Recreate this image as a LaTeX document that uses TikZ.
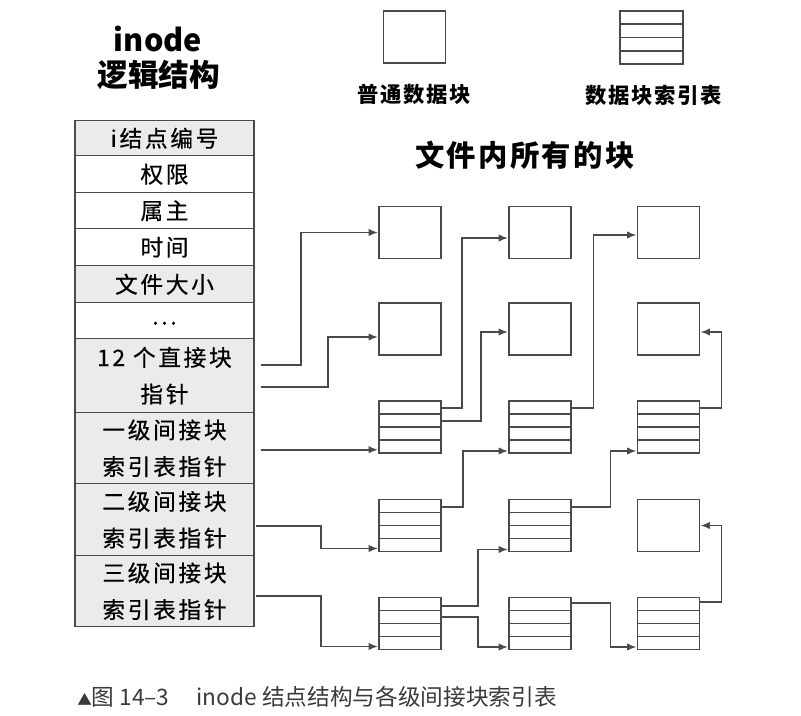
\documentclass[tikz,border=0pt]{standalone}
\usepackage{fontspec}
\setmainfont{Noto Sans CJK SC}
\newfontfamily\tabfont[LetterSpace=12,FakeBold=0.6]{Noto Sans CJK SC}
\newfontfamily\legfont[LetterSpace=8]{Noto Sans CJK SC}
\usetikzlibrary{arrows.meta,calc}
\definecolor{lncol}{HTML}{4A4A4A}
\definecolor{cellgray}{HTML}{EBEBEB}
\definecolor{capcol}{HTML}{3A3A3A}
\begin{document}
\begin{tikzpicture}[x=0.75pt,y=-0.75pt,
  blk/.style={draw=lncol, line width=1.4pt, minimum width=46.5pt, minimum height=39pt, inner sep=0pt},
  idx/.style={blk, path picture={\foreach \f in {0.25,0.5,0.75}{\draw[lncol, line width=1.4pt] ($(path picture bounding box.north west)!\f!(path picture bounding box.south west)$) -- ($(path picture bounding box.north east)!\f!(path picture bounding box.south east)$);}}},
  arr/.style={draw=lncol, line width=1.3pt, -{Latex[length=7pt,width=5.5pt]}},
  cell/.style={draw=lncol, line width=1.1pt, minimum width=134.25pt, inner sep=0pt, anchor=north, align=center, font=\tabfont\fontsize{17}{27.5}\selectfont},
  gcell/.style={cell, fill=cellgray},
  ttl/.style={font=\bfseries\fontsize{23}{28}\selectfont},
  leg/.style={font=\legfont\bfseries\fontsize{16}{20}\selectfont},
  captxt/.style={font=\fontsize{17}{20}\selectfont, text=capcol, anchor=west, inner sep=0pt}
]
\useasboundingbox (0,0) rectangle (801,716);

% titles
\node[ttl] (tinode) at (158,39) {inode};
\node[ttl] (tlogic) at (159,75) {逻辑结构};

% legend
\node[blk] (lgplain) at (414.5,37) {};
\node[idx, minimum width=47.25pt, minimum height=39.75pt] (lgidx) at (651.5,37.5) {};
\node[leg] (lgplaintxt) at (414.5,94) {普通数据块};
\node[leg] (lgidxtxt) at (653.5,95) {数据块索引表};
\node[font=\legfont\bfseries\fontsize{22}{26}\selectfont] (allblk) at (525,155) {文件内所有的块};

% inode table
\node[gcell, minimum height=26.25pt] (r0) at (164.5,120) {i结点编号};
\node[cell, minimum height=27.75pt] (r1) at (164.5,155) {权限};
\node[cell, minimum height=27pt] (r2) at (164.5,192) {属主};
\node[cell, minimum height=27.75pt] (r3) at (164.5,228) {时间};
\node[gcell, minimum height=27.75pt] (r4) at (164.5,265) {文件大小};
\node[cell, minimum height=27pt] (r5) at (164.5,302) {\raisebox{-6pt}{...}};
\node[gcell, minimum height=55.5pt] (r6) at (164.5,338) {12 个直接块\\指针};
\node[gcell, minimum height=53.25pt] (r7) at (164.5,412) {一级间接块\\索引表指针};
\node[gcell, minimum height=54pt] (r8) at (164.5,483) {二级间接块\\索引表指针};
\node[gcell, minimum height=53.25pt] (r9) at (164.5,555) {三级间接块\\索引表指针};

% blocks
\node[blk] (c11) at (410,232.5) {};
\node[blk] (c12) at (410,329) {};
\node[idx] (c13) at (410,427) {};
\node[idx] (c14) at (410,525.5) {};
\node[idx] (c15) at (410,623.5) {};
\node[blk] (c21) at (540,232.5) {};
\node[blk] (c22) at (540,329) {};
\node[idx] (c23) at (540,427) {};
\node[idx] (c24) at (540,525.5) {};
\node[idx] (c25) at (540,623.5) {};
\node[blk] (c31) at (668.5,232.5) {};
\node[blk] (c32) at (668.5,329) {};
\node[idx] (c33) at (668.5,427) {};
\node[blk] (c34) at (668.5,525.5) {};
\node[idx] (c35) at (668.5,623.5) {};

% start and target points
\coordinate (s1) at ($(r6.east)+(6,-11)$);
\coordinate (s2) at ($(r6.east)+(6,11)$);
\coordinate (s3) at ($(r7.east)+(6,1.5)$);
\coordinate (s4) at ($(r8.east)+(1,6)$);
\coordinate (s5) at ($(r9.east)+(1,4.5)$);
\coordinate (t2) at ($(c12.west)+(0,8)$);
\coordinate (t4) at ($(c14.west)+(0,23)$);
\coordinate (t5) at ($(c15.west)+(0,23)$);
\coordinate (s6) at ($(c13.east)+(0,-19)$);
\coordinate (s7) at ($(c13.east)+(0,-6)$);
\coordinate (s8) at ($(c14.east)+(0,-18.5)$);
\coordinate (s9) at ($(c15.east)+(0,-17.5)$);
\coordinate (s10) at ($(c15.east)+(0,-6.5)$);
\coordinate (t6) at ($(c21.west)+(0,5.5)$);
\coordinate (t7) at ($(c22.west)+(0,3)$);
\coordinate (t8) at ($(c23.west)+(0,24)$);
\coordinate (t9) at ($(c24.west)+(0,24)$);
\coordinate (t10) at ($(c25.west)+(0,23.5)$);
\coordinate (s11) at ($(c23.east)+(0,-19)$);
\coordinate (s12) at ($(c33.east)+(0,-19)$);
\coordinate (s13) at ($(c24.east)+(0,-18.5)$);
\coordinate (s14) at ($(c25.east)+(0,-20.5)$);
\coordinate (s15) at ($(c35.east)+(0,-21.5)$);
\coordinate (t11) at ($(c31.west)+(0,2.5)$);
\coordinate (t12) at ($(c32.east)+(0,3)$);
\coordinate (t13) at ($(c33.west)+(0,24)$);
\coordinate (t14) at ($(c35.west)+(0,23.5)$);

% connectors
\draw[arr] (s1) -| ($(c11.west)+(-77,0)$) -- (c11.west);
\draw[arr] (s2) -| ($(t2)+(-50,0)$) -- (t2);
\draw[arr] (s3) -- (s3 -| c13.west);
\draw[arr] (s4) -| ($(t4)+(-57,0)$) -- (t4);
\draw[arr] (s5) -| ($(t5)+(-57,0)$) -- (t5);
\draw[arr] (s6) -| ($(t6)+(-46,0)$) -- (t6);
\draw[arr] (s7) -| ($(t7)+(-27,0)$) -- (t7);
\draw[arr] (s8) -| ($(t8)+(-45,0)$) -- (t8);
\draw[arr] (s9) -| ($(t9)+(-30,0)$) -- (t9);
\draw[arr] (s10) -| ($(t10)+(-30,0)$) -- (t10);
\draw[arr] (s11) -| ($(t11)+(-43,0)$) -- (t11);
\draw[arr] (s12) -| ($(t12)+(21,0)$) -- (t12);
\draw[arr] (s13) -| ($(t13)+(-26,0)$) -- (t13);
\draw[arr] (s14) -| ($(t14)+(-26,0)$) -- (t14);
\draw[arr] (s15) -| ($(c34.east)+(21,0)$) -- (c34.east);

% caption
\node[captxt] (caption) at (77,697) {{\fontsize{11}{12}\selectfont ▲}图 14–3\hspace{1.2em}inode 结点结构与各级间接块索引表};
\end{tikzpicture}
\end{document}
